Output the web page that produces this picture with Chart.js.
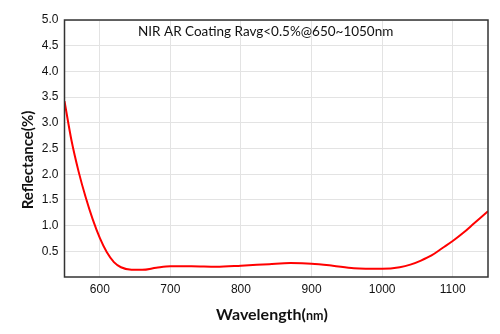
<!DOCTYPE html>
<html lang="en">
<head>
    <meta charset="UTF-8">
    <title>NIR AR Coating Reflectance</title>
    <script src="https://cdn.jsdelivr.net/npm/chart.js@4"></script>
    <style>
        html, body { margin: 0; padding: 0; background: #fff; }
        #wrap { width: 500px; height: 334px; }
    </style>
</head>
<body>
    <div id="wrap"><canvas id="reflChart"></canvas></div>
    <script>
        // reflectance curve, wavelength in nm, reflectance in %
        const wavelengths = [550, 560, 570, 580, 590, 600, 610, 620, 630, 645, 660, 680, 700, 730, 765, 800, 840, 870, 900, 930, 960, 1000, 1025, 1040, 1055, 1070, 1085, 1100, 1115, 1130, 1150];
        const reflectance = [3.42, 2.65, 2.05, 1.55, 1.12, 0.76, 0.48, 0.29, 0.19, 0.14, 0.14, 0.18, 0.21, 0.21, 0.20, 0.22, 0.25, 0.27, 0.26, 0.22, 0.17, 0.16, 0.19, 0.24, 0.32, 0.42, 0.56, 0.70, 0.86, 1.04, 1.28];
        const xTicks = [600, 700, 800, 900, 1000, 1100];
        const yTicks = [0.5, 1.0, 1.5, 2.0, 2.5, 3.0, 3.5, 4.0, 4.5, 5.0];
        const chartTitle = 'NIR AR Coating Ravg<0.5%@650~1050nm';

        const points = wavelengths.map((w, i) => ({ x: w, y: reflectance[i] }));

        // draw a run of [text, font] pieces centred on (cx, cy)
        function drawPieces(ctx, pieces, cx, cy) {
            let total = 0;
            pieces.forEach(p => { ctx.font = p[1]; total += ctx.measureText(p[0]).width; });
            let x = cx - total / 2;
            ctx.textAlign = 'left';
            ctx.textBaseline = 'alphabetic';
            pieces.forEach(p => {
                ctx.font = p[1];
                ctx.fillText(p[0], x, cy);
                x += ctx.measureText(p[0]).width;
            });
        }

        // frame around the plot area, the note at its top and the axis titles
        const framePlugin = {
            id: 'frame',
            afterDatasetsDraw(chart) {
                const a = chart.chartArea;
                const ctx = chart.ctx;
                ctx.save();
                ctx.strokeStyle = '#333';
                ctx.lineWidth = 1.5;
                ctx.strokeRect(a.left, a.top, a.right - a.left, a.bottom - a.top);

                ctx.fillStyle = '#111';
                ctx.font = '13.5px Lato, sans-serif';
                ctx.textAlign = 'center';
                ctx.textBaseline = 'middle';
                ctx.fillText(chartTitle, a.left + (a.right - a.left) * 0.475, a.top + 12);

                const big = 'bold 16px Lato, sans-serif';
                const small = 'bold 12.5px Lato, sans-serif';
                drawPieces(ctx, [['Wavelength(', big], ['nm', small], [')', big]], 272, 320);

                ctx.translate(33, 160);
                ctx.rotate(-Math.PI / 2);
                drawPieces(ctx, [['Reflectance(%)', 'bold 15px Lato, sans-serif']], 0, 0);
                ctx.restore();
            }
        };

        const tickFont = { family: '"Liberation Sans", Arial, sans-serif', size: 12 };

        new Chart(document.getElementById('reflChart').getContext('2d'), {
            type: 'line',
            data: {
                datasets: [{
                    data: points,
                    borderColor: '#ff0000',
                    borderWidth: 2,
                    pointRadius: 0,
                    cubicInterpolationMode: 'monotone',
                    fill: false
                }]
            },
            options: {
                responsive: true,
                maintainAspectRatio: false,
                animation: false,
                layout: { padding: { top: 20, right: 12, left: 0, bottom: 0 } },
                plugins: {
                    legend: { display: false },
                    tooltip: { enabled: false }
                },
                scales: {
                    x: {
                        type: 'linear',
                        min: 550,
                        max: 1150,
                        afterBuildTicks(scale) { scale.ticks = xTicks.map(v => ({ value: v })); },
                        afterFit(scale) { scale.height = 57; },
                        grid: { color: '#e3e3e3', lineWidth: 1, drawTicks: false },
                        border: { display: false },
                        ticks: { font: tickFont, color: '#111', padding: 5, maxRotation: 0, callback: v => String(v) }
                    },
                    y: {
                        min: 0,
                        max: 5,
                        afterBuildTicks(scale) { scale.ticks = yTicks.map(v => ({ value: v })); },
                        afterFit(scale) { scale.width = 64.5; },
                        grid: { color: '#e3e3e3', lineWidth: 1, drawTicks: false },
                        border: { display: false },
                        ticks: { font: tickFont, color: '#111', padding: 6, callback: v => v.toFixed(1) }
                    }
                }
            },
            plugins: [framePlugin]
        });
    </script>
</body>
</html>
